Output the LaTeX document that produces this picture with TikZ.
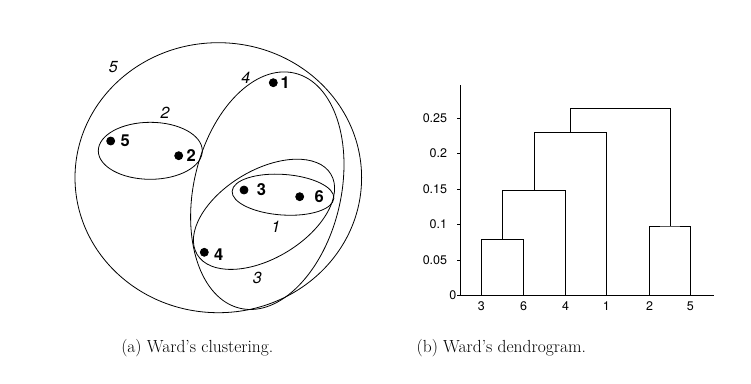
\documentclass[tikz,border=0pt]{standalone}
\usepackage{fontspec}
\newfontfamily\helv{TeX Gyre Heros}
\usepackage{tikz}
\usetikzlibrary{positioning}
\tikzset{
    every picture/.style={x=1pt, y=-1pt, line width=.8pt},
    dot/.style={circle, fill, draw, inner sep=0pt, minimum size=8pt},
    dotlabel/.style={inner sep=0pt, font=\helv\bfseries\fontsize{16.5}{16}\selectfont},
    clulabel/.style={inner sep=0pt, font=\helv\itshape\fontsize{16}{16}\selectfont},
    ticklabel/.style={inner sep=0pt, anchor=east, font=\helv\fontsize{12.5}{13}\selectfont},
    leaflabel/.style={inner sep=0pt, font=\helv\fontsize{12.5}{13}\selectfont},
    caption/.style={inner sep=0pt, font=\fontsize{17.5}{19}\selectfont}
}

\begin{document}
\begin{tikzpicture}
	\useasboundingbox (0,0) rectangle (751,383);
	% (a) clusters
	\node [dot] (p1) at (273.3,82.7) {};
	\node [dot] (p2) at (178.7,155.7) {};
	\node [dot] (p3) at (244,190) {};
	\node [dot] (p4) at (204.3,252.3) {};
	\node [dot] (p5) at (110.7,141) {};
	\node [dot] (p6) at (299.7,196.7) {};
	\node [dotlabel, right=2.5pt of p1] (l1) {1};
	\node [dotlabel, right=3pt of p2] (l2) {2};
	\node [dotlabel, right=8pt of p3] (l3) {3};
	\node [dotlabel, right=10pt of p6] (l6) {6};
	\node [dotlabel, right=5pt of p4, yshift=-2pt] (l4) {4};
	\node [dotlabel, right=5pt of p5] (l5) {5};
	\draw (218.3,177.7) ellipse [x radius=143.3pt, y radius=135pt];
	\draw (150.3,150.8) ellipse [x radius=52pt, y radius=28.5pt];
	\draw (283,194.7) ellipse [x radius=51pt, y radius=20.3pt, rotate=-4];
	\draw (264,214.3) ellipse [x radius=78pt, y radius=44pt, rotate=31];
	\draw (267.3,190.7) ellipse [x radius=120.7pt, y radius=73.6pt, rotate=77];
	\node [clulabel] (c1) at (275.7,226.7) {1};
	\node [clulabel] (c2) at (165,113.3) {2};
	\node [clulabel] (c3) at (257.3,278.3) {3};
	\node [clulabel] (c4) at (245.7,78.3) {4};
	\node [clulabel] (c5) at (113.3,66.7) {5};
	% (b) dendrogram
	\coordinate (o) at (460.3,295.3);
	\coordinate (ytop) at (460.3,85);
	\coordinate (xend) at (714.3,295.3);
	\draw (ytop) -- (o) -- (xend);
	\foreach \y/\v in {295.3/0, 260/0.05, 224.3/0.1, 189.3/0.15, 153.3/0.2, 118.3/0.25}
		\draw (457.3,\y) -- (460.3,\y);
	\node [ticklabel] at (456.7,295.3) {0};
	\node [ticklabel] at (447.5,260) {0.05};
	\node [ticklabel] at (447.5,224.3) {0.1};
	\node [ticklabel] at (447.5,189.3) {0.15};
	\node [ticklabel] at (447.5,153.3) {0.2};
	\node [ticklabel] at (447.5,118.3) {0.25};
	\coordinate (s3) at (481.3,295.3);
	\coordinate (s6) at (523.7,295.3);
	\coordinate (s4) at (565.7,295.3);
	\coordinate (s1) at (606.3,295.3);
	\coordinate (s2) at (649.7,295.3);
	\coordinate (s5) at (690.3,295.3);
	\node [leaflabel] at (481.3,306) {3};
	\node [leaflabel] at (523.7,306) {6};
	\node [leaflabel] at (565.7,306) {4};
	\node [leaflabel] at (606.3,306) {1};
	\node [leaflabel] at (649.7,306) {2};
	\node [leaflabel] at (690.3,306) {5};
	\coordinate (m36) at (502.5,239.3);
	\coordinate (m364) at (534.1,190.3);
	\coordinate (m3641) at (570.2,132.3);
	\coordinate (m25) at (670,226);
	\coordinate (mtop) at (620.1,108.3);
	\draw (s3) |- (m36) -| (s6);
	\draw (m36) |- (m364) -| (s4);
	\draw (m364) |- (m3641) -| (s1);
	\draw (s2) |- (m25) -| (s5);
	\draw (m3641) |- (mtop) -| (m25);
	% captions
	\node [caption] (capa) at (197.3,348) {(a) Ward's clustering.};
	\node [caption] (capb) at (501.3,348) {(b) Ward's dendrogram.};
\end{tikzpicture}
\end{document}
